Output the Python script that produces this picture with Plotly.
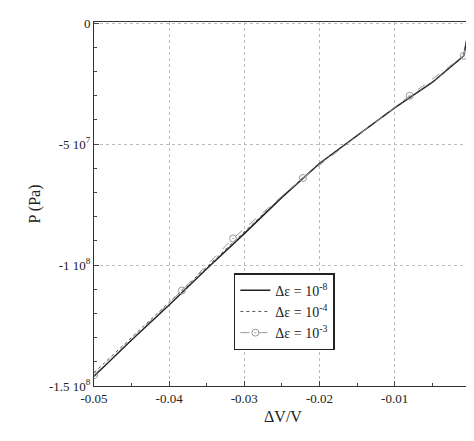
import plotly.graph_objects as go

# --- Data ---
dv_fine = [-0.05, -0.045, -0.04, -0.035, -0.03, -0.025, -0.02, -0.015, -0.01, -0.005, -0.0008, 0.0]
p_fine = [-1.46e8, -1.31e8, -1.165e8, -1.015e8, -8.7e7, -7.2e7, -5.8e7, -4.65e7, -3.5e7, -2.45e7, -1.35e7, 0.0]

dv_mid = [-0.05, -0.045, -0.04, -0.035, -0.03, -0.025, -0.02, -0.015, -0.01, -0.005, -0.0008, 0.0]
p_mid = [-1.445e8, -1.3e8, -1.155e8, -1.008e8, -8.65e7, -7.17e7, -5.79e7, -4.64e7, -3.5e7, -2.45e7, -1.35e7, 0.0]

dv_coarse = [-0.05, -0.0383, -0.0315, -0.0222, -0.008, -0.0008, 0.0]
p_coarse = [-1.455e8, -1.105e8, -8.9e7, -6.4e7, -3.0e7, -1.35e7, 0.0]

x_ticks = [-0.05, -0.04, -0.03, -0.02, -0.01, 0]
x_labels = ["-0.05", "-0.04", "-0.03", "-0.02", "-0.01", "0"]
y_ticks = [0, -5e7, -1e8, -1.5e8]
y_labels = ["0", "-5 10<sup>7</sup>", "-1 10<sup>8</sup>", "-1.5 10<sup>8</sup>"]

fig = go.Figure()
fig.add_trace(go.Scatter(x=dv_fine, y=p_fine, mode="lines", name="Δε = 10<sup>-8</sup>",
                         line=dict(color="#222", width=1.5)))
fig.add_trace(go.Scatter(x=dv_mid, y=p_mid, mode="lines", name="Δε = 10<sup>-4</sup>",
                         line=dict(color="#555", width=1, dash="dot")))
fig.add_trace(go.Scatter(x=dv_coarse, y=p_coarse, mode="lines+markers", name="Δε = 10<sup>-3</sup>",
                         line=dict(color="#999", width=1, dash="dash"),
                         marker=dict(symbol="circle-open-dot", size=7, color="#999")))

axis = dict(showline=True, linecolor="#333", mirror=True, ticks="inside",
            showgrid=True, gridcolor="#bbb", griddash="dot", zeroline=False,
            minor=dict(ticks="inside", ticklen=3, showgrid=False))
fig.update_xaxes(axis, range=[-0.05, 0.0003], tickvals=x_ticks, ticktext=x_labels,
                 title=dict(text="ΔV/V", standoff=6))
fig.update_yaxes(axis, range=[-1.5e8, 5e5], tickvals=y_ticks, ticktext=y_labels,
                 title=dict(text="P (Pa)", standoff=4))

fig.update_layout(
    width=474, height=441,
    margin=dict(l=86, r=10, t=8, b=63),
    plot_bgcolor="white", paper_bgcolor="white",
    font=dict(family="Liberation Serif", size=13, color="#222"),
    showlegend=True,
    legend=dict(x=0.37, y=0.31, xanchor="left", yanchor="top",
                bordercolor="#222", borderwidth=1.5, bgcolor="white",
                font=dict(size=14)),
)

fig.write_html("out.html")
